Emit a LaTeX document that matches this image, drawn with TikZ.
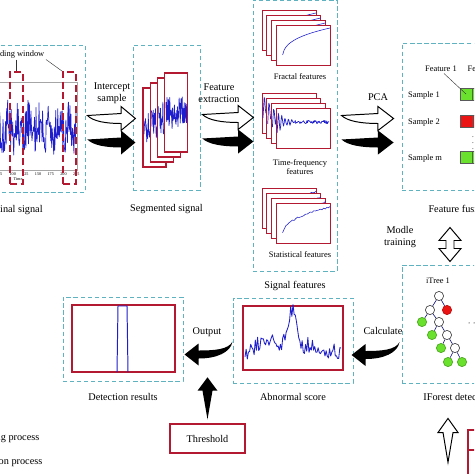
\documentclass[tikz,border=0pt]{standalone}
\usepackage{fontspec}
\setmainfont{Liberation Serif}
\definecolor{boxcyan}{RGB}{95,178,192}
\definecolor{framered}{RGB}{180,25,50}
\definecolor{sigblue}{RGB}{30,30,205}
\definecolor{leafgreen}{RGB}{105,225,45}
\definecolor{anomred}{RGB}{235,20,20}
\usetikzlibrary{positioning,calc,fit}

\tikzset{
  dashbox/.style={draw=boxcyan, dash pattern=on 3pt off 2pt, line width=0.6pt, inner sep=0pt},
  plotframe/.style={draw=framered, line width=0.8pt, fill=white},
  window/.style={draw=framered, dash pattern=on 5pt off 2.5pt, line width=1.1pt, inner sep=0pt},
  caption/.style={font=\fontsize{7.3}{8.6}\selectfont, align=center, inner sep=1pt},
  tinytext/.style={font=\fontsize{6}{7}\selectfont, align=center, inner sep=1pt},
  sig/.style={draw=sigblue, line width=0.5pt, line join=round},
  cell/.style={draw=black!65, minimum size=3mm, inner sep=0pt},
  treenode/.style={circle, draw=black!70, fill=white, minimum size=2.3mm, inner sep=0pt, line width=0.5pt},
  leaf/.style={treenode, draw=leafgreen!75!black, fill=leafgreen},
  outlier/.style={treenode, draw=anomred!80!black, fill=anomred},
  % block arrows, tail at the origin, tip at (#1,0)
  taperarrow/.pic={
    \path[pic actions] (0,-3) -- (0.7*#1,-5) -- (0.7*#1,-12) -- (#1,0) -- (0.7*#1,12) -- (0.7*#1,5)
      .. controls (0.4*#1,5) and (0.12*#1,3) .. (0,-3) -- cycle;
  },
  spikearrow/.pic={
    \path[pic actions] (0,0) -- (0.68*#1,-5) -- (0.68*#1,-10) -- (#1,0) -- (0.68*#1,10) -- (0.68*#1,5) -- cycle;
  },
  bentarrow/.pic={
    \path[pic actions] (0,0) .. controls (-4,8) and (-18,9) .. (-34,9) -- (-34,2) -- (-48,13) -- (-34,24) -- (-34,17)
      .. controls (-16,17) and (-2,11) .. (0,0) -- cycle;
  },
  twoheadarrow/.pic={
    \path[pic actions] (0,-17) -- (11,-4) -- (4,-4) -- (4,4) -- (11,4) -- (0,17) -- (-11,4) -- (-4,4) -- (-4,-4) -- (-11,-4) -- cycle;
  }
}

\begin{document}
\begin{tikzpicture}[x=0.25mm, y=-0.25mm]
\useasboundingbox (0,0) rectangle (474,474);
\clip (0,0) rectangle (474,474);
\fill[white] (0,0) rectangle (474,474);
\pgfmathsetseed{7}

% --- top row boxes
\node[dashbox, fit={(-61,45) (85,192)}] (orig) {};
\node[dashbox, fit={(133,45) (200,190)}] (seg) {};
\node[dashbox, fit={(253,0) (337,271)}] (feat) {};
\node[dashbox, fit={(402,43) (514,190)}] (fusion) {};

\node[caption, below=2.7mm of orig] {Original signal};
\node[caption, below=3mm of seg] {Segmented signal};
\node[caption, below=2mm of feat] {Signal features};
\node[caption, below=3.2mm of fusion] {Feature fusion};

% original signal
\draw[black!35, line width=0.4pt] (-45,82) rectangle (77,170);
\draw[sig] plot[domain=-45:76, samples=240] (\x, {128+22*rand+6*sin(\x*35)});
\foreach \t [count=\i from 0] in {75,100,125,150,175,200,225}
  \node[font=\fontsize{3}{3}\selectfont, inner sep=0pt] at (\i*12.7, 174.5) {\t};
\node[font=\fontsize{3}{3}\selectfont, inner sep=0pt] at (18,179) {Time};
\node[window, fit={(10,72) (23,184)}] (win1) {};
\node[window, fit={(63,72) (76,184)}] (win2) {};
\node[tinytext, anchor=east] (slide) at (46,54) {Sliding window};
\draw[black!80, line width=0.3pt] (win1.north |- slide.south) -- (win1.north);
\draw[black!80, line width=0.3pt] (slide.south east) -- (win2.north west);

% segmented signal
\foreach \k in {0,...,3} {
  \draw[plotframe] ({143+7.3*\k},{88-5*\k}) rectangle ++(23,79);
  \draw[sig] plot[domain=1:22, samples=55] ({143+7.3*\k+\x},{128-5*\k+16*rand});
}

% signal features
\foreach \k in {0,...,3} {
  \draw[plotframe, line width=0.7pt] ({262+4.7*\k},{10+5*\k}) rectangle ++(54,40);
  \draw[sigblue, line width=0.4pt] plot[domain=0.01:1, samples=30] ({262+4.7*\k+6+48*\x},{10+5*\k+39-36*(\x)^0.3});
}
\node[tinytext] (fractal) at (300,77) {Fractal features};
\foreach \k in {0,...,3} {
  \draw[plotframe, line width=0.7pt] ({262+4.7*\k},{93+5*\k}) rectangle ++(54,40);
  \draw[sig] plot[domain=1:53, samples=90] ({262+4.7*\k+\x},{93+5*\k+14+13*exp(-\x/7)*sin(\x*110)+1.6*rand});
}
\node[tinytext] (timefreq) at (300,167) {Time-frequency\\features};
\foreach \k in {0,...,3} {
  \draw[plotframe, line width=0.7pt] ({262+4.7*\k},{188+5*\k}) rectangle ++(54,40);
  \draw[sigblue, line width=0.4pt] plot[domain=0.01:1, samples=30] ({262+4.7*\k+6+48*\x},{188+5*\k+37-33*(\x)^0.35+0.8*rand});
}
\node[tinytext] (statistic) at (300,255) {Statistical features};

% feature fusion
\node[tinytext] (featone) at (441,69) {Feature 1};
\node[tinytext, anchor=west] (feattwo) at (466,69) {Feature 2};
\node[tinytext] (sampone) at (424,95) {Sample 1};
\node[tinytext] (samptwo) at (424,122) {Sample 2};
\node[tinytext] (sampm) at (425,158) {Sample m};
\node[cell, fill=leafgreen] (c11) at (466,94) {};
\node[cell, fill=leafgreen, right=0pt of c11] (c12) {};
\node[cell, fill=anomred] (c21) at (466,121) {};
\node[cell, fill=anomred, right=0pt of c21] (c22) {};
\node[cell, fill=leafgreen] (cm1) at (466,157.5) {};
\node[cell, fill=leafgreen, right=0pt of cm1] (cm2) {};
\node[font=\fontsize{5}{5}\selectfont, inner sep=0pt] (vdots) at (473,139) {$\vdots$};
\draw[black!80, line width=0.3pt] ($(featone.south)+(3,0)$) -- (c11.center);

% top row arrows
\pic[draw, fill=white, line width=0.7pt] at ($(orig.east)+(2,0)$) {taperarrow=48};
\pic[fill=black] at ($(orig.east)+(2,24)$) {taperarrow=48};
\pic[draw, fill=white, line width=0.7pt] at ($(seg.east)+(2,0)$) {taperarrow=51};
\pic[fill=black] at ($(seg.east)+(2,24)$) {taperarrow=51};
\pic[draw, fill=white, line width=0.7pt] at ($(fusion.west)+(-60,2)$) {taperarrow=52};
\pic[fill=black] at ($(fusion.west)+(-60,26)$) {taperarrow=52};
\node[caption] (intercept) at (112,93) {Intercept\\sample};
\node[caption] (extract) at (219,93) {Feature\\extraction};
\node[caption] (pca) at (378,97) {PCA};

% model training
\node[dashbox, fit={(402,265) (514,383)}] (iforest) {};
\node[caption, below=2mm of iforest] {IForest detection};
\pic[draw, fill=white, line width=0.7pt] at ($(fusion.south)!0.5!(iforest.north)+(-8,17)$) {twoheadarrow};
\node[caption] (training) at (400,237) {Modle\\training};

% iTree
\node[tinytext] (itree) at (438,281) {iTree 1};
\node[treenode] (t1) at (439,296) {};
\node[treenode] (t2) at (430,310) {};
\node[outlier] (t3) at (447,310) {};
\node[leaf] (t4) at (422,322) {};
\node[treenode] (t5) at (439,322) {};
\node[leaf] (t6) at (432,335) {};
\node[treenode] (t7) at (447,335) {};
\node[leaf] (t8) at (441,348) {};
\node[treenode] (t9) at (455,348) {};
\node[leaf] (t10) at (448,362) {};
\node[leaf] (t11) at (462,362) {};
\foreach \a/\b in {t1/t2, t1/t3, t2/t4, t2/t5, t5/t6, t5/t7, t7/t8, t7/t9, t9/t10, t9/t11}
  \draw[black!55!blue, line width=0.4pt] (\a) -- (\b);
\node[tinytext, anchor=west] (moretrees) at (466,323) {$\cdots$};

% bottom row
\node[dashbox, fit={(233,298) (353,383)}] (score) {};
\node[caption, below=2mm of score] {Abnormal score};
\draw[plotframe] (243,306) rectangle (343,370);
\draw[sig, line width=0.6pt] plot[domain=245:341, samples=85]
  (\x,{352-40*exp(-((\x-292)^2)/50)-14*exp(-((\x-268)^2)/150)-8*exp(-((\x-313)^2)/120)+8*rand});

\node[dashbox, fit={(63,297) (183,381)}] (result) {};
\node[caption, below=2.5mm of result] {Detection results};
\draw[plotframe] (72,305) rectangle (175,372);
\draw[sigblue, line width=0.7pt] (117,372) -- (118,306) -- (127,306) -- (128,372);

\node[draw=framered, line width=1pt, inner sep=0pt, fit={(170,424) (245,453)}] (thresh) {};
\node[caption] (threshtext) at (thresh.center) {Threshold};

\pic[fill=black] at ($(iforest.west)+(-2,18)$) {bentarrow};
\pic[fill=black] at ($(score.west)+(0,1)$) {bentarrow};
\pic[fill=black, rotate=90] at ($(thresh.north)+(0,-4)$) {spikearrow=42};
\pic[draw, fill=white, line width=0.7pt, rotate=90] at ($(iforest.south)+(-10,79)$) {spikearrow=44};
\node[caption] (calc) at (383,331) {Calculate};
\node[caption] (output) at (207,332) {Output};

\draw[framered, line width=0.9pt] (468,430) rectangle (520,520);
\draw[framered, line width=0.9pt] (468,450) -- (520,450);

% legend
\node[caption, anchor=east] (train) at (41,438) {Training process};
\node[caption, anchor=east] (detect) at (44,462) {Detection process};
\end{tikzpicture}
\end{document}
